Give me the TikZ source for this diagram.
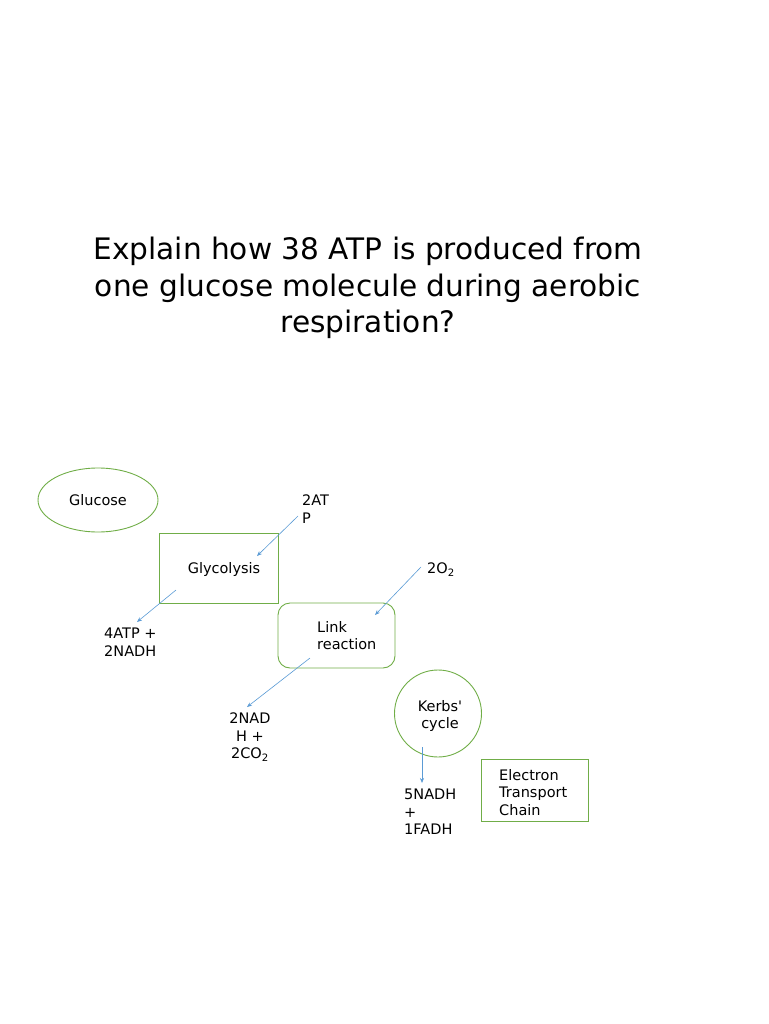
\documentclass[tikz,border=0pt]{standalone}
\usepackage{fontspec}
\setmainfont{DejaVu Sans}[Ligatures=TeXOff]
\usetikzlibrary{shapes.geometric,arrows.meta}
\definecolor{grn}{RGB}{112,173,71}
\definecolor{blu}{RGB}{91,155,213}
\begin{document}
\begin{tikzpicture}[x=1pt,y=-1pt,
  shp/.style={draw=grn,line width=0.9pt},
  lbl/.style={font=\fontsize{14.5}{17.5}\selectfont,inner sep=0pt},
  arr/.style={draw=blu,line width=0.6pt,-{Stealth[length=5pt,width=4pt]}}]
\useasboundingbox (0,0) rectangle (768,1024);
\node[font=\fontsize{29.6}{36.5}\selectfont,align=center,inner sep=0pt] (title) at (368,288)
  {Explain how 38 ATP is produced from\\one glucose molecule during aerobic\\respiration?};
\node[shp,ellipse,minimum width=120,minimum height=64] (glucose) at (98,500) {};
\node[lbl] (glucoset) at (98,500) {Glucose};
\node[shp,rectangle,minimum width=119,minimum height=70] (glyc) at (218.5,568) {};
\node[lbl] (glyct) at (224,569) {Glycolysis};
\node[lbl,align=left,anchor=north west] (atp2) at (302,495) {2AT\\P};
\node[lbl,align=left,anchor=north west] (atp4) at (104,628) {4ATP +\\2NADH};
\node[shp,rectangle,rounded corners=12,minimum width=117,minimum height=65] (link) at (336.5,635.5) {};
\node[lbl,align=left,anchor=north west] (linkt) at (317,621) {Link\\reaction};
\node[lbl,anchor=north west] (o2) at (427,563) {2O\textsubscript{2}};
\node[lbl,align=center,anchor=north] (nadh2) at (250,713) {2NAD\\H +\\2CO\textsubscript{2}};
\node[shp,circle,minimum size=87] (krebs) at (438,713.5) {};
\node[lbl,align=center] (krebst) at (440,716) {Kerbs'\\cycle};
\node[lbl,align=left,anchor=north west] (nadh5) at (404,789) {5NADH\\+\\1FADH};
\node[shp,rectangle,minimum width=107,minimum height=62] (etc) at (534.5,790) {};
\node[lbl,align=left,anchor=north west] (etct) at (499,769) {Electron\\Transport\\Chain};
\coordinate (a1s) at (298,516); \coordinate (a1e) at (257,556);
\coordinate (a2s) at (176,590); \coordinate (a2e) at (137,622);
\coordinate (a3s) at (421,567); \coordinate (a3e) at (375,615);
\coordinate (a4s) at (310,658); \coordinate (a4e) at (247,707);
\coordinate (a5s) at (422,747); \coordinate (a5e) at (422,783);
\draw[arr] (a1s) -- (a1e);
\draw[arr] (a2s) -- (a2e);
\draw[arr] (a3s) -- (a3e);
\draw[arr] (a4s) -- (a4e);
\draw[arr] (a5s) -- (a5e);
\end{tikzpicture}
\end{document}
